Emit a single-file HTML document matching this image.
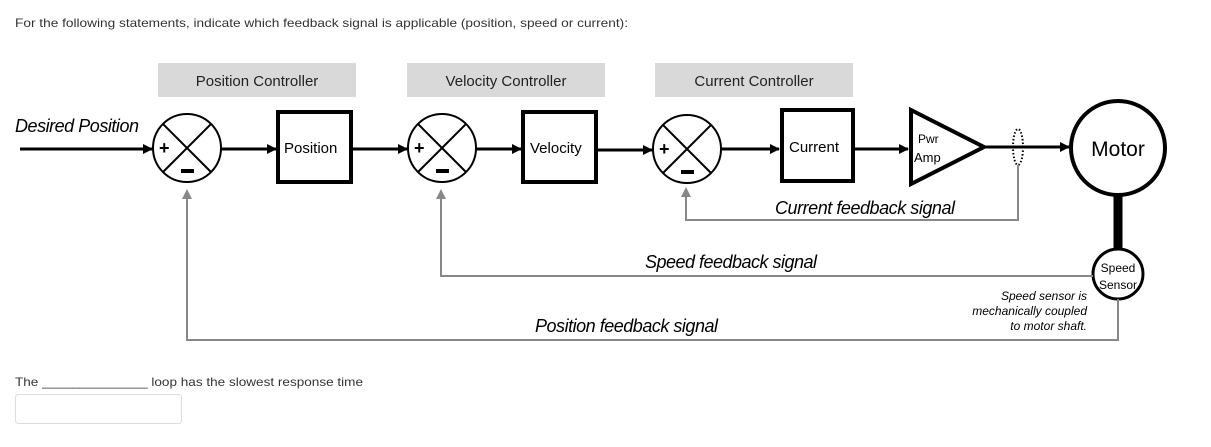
<!DOCTYPE html>
<html><head><style>
body{margin:0;background:#fff;width:1211px;height:442px;overflow:hidden;font-family:"Liberation Sans",sans-serif}
</style></head><body>
<svg width="1211" height="442" viewBox="0 0 1211 442" xmlns="http://www.w3.org/2000/svg" font-family="Liberation Sans, sans-serif">
<defs>
<marker id="a" markerWidth="10" markerHeight="10" refX="9" refY="5" orient="auto" markerUnits="userSpaceOnUse"><path d="M0,0 L10,5 L0,10 z" fill="#000"/></marker>
</defs>
<text x="15" y="27" font-size="12" fill="#333" textLength="613" lengthAdjust="spacingAndGlyphs">For the following statements, indicate which feedback signal is applicable (position, speed or current):</text>
<rect x="158" y="63" width="198" height="34" fill="#d9d9d9"/>
<rect x="407" y="63" width="198" height="34" fill="#d9d9d9"/>
<rect x="655" y="63" width="198" height="34" fill="#d9d9d9"/>
<text x="257" y="86" font-size="15" text-anchor="middle" fill="#222">Position Controller</text>
<text x="506" y="86" font-size="15" text-anchor="middle" fill="#222">Velocity Controller</text>
<text x="754" y="86" font-size="15" text-anchor="middle" fill="#222">Current Controller</text>
<text x="15" y="132" font-size="18" font-style="italic" fill="#000" textLength="124">Desired Position</text>
<g stroke="#000" stroke-width="3" fill="none">
<line x1="20" y1="149" x2="152" y2="149" marker-end="url(#a)"/>
<line x1="221" y1="149" x2="276" y2="149" marker-end="url(#a)"/>
<line x1="353" y1="149" x2="407" y2="149" marker-end="url(#a)"/>
<line x1="476" y1="149" x2="521" y2="149" marker-end="url(#a)"/>
<line x1="598" y1="150" x2="652" y2="150" marker-end="url(#a)"/>
<line x1="722" y1="149" x2="779" y2="149" marker-end="url(#a)"/>
<line x1="854" y1="149" x2="908" y2="149" marker-end="url(#a)"/>
<line x1="985" y1="147" x2="1069" y2="147" marker-end="url(#a)"/>
<rect x="278" y="112" width="73" height="70" stroke-width="4"/>
<rect x="523" y="112" width="73" height="70" stroke-width="4"/>
<rect x="782" y="110" width="71" height="71" stroke-width="4"/>
<path d="M911,110 L984,147 L911,184 Z" stroke-width="4"/>
<circle cx="1118" cy="148" r="47" stroke-width="4"/>
<circle cx="1118" cy="274" r="25" stroke-width="3"/>
</g>
<line x1="1118" y1="196" x2="1118" y2="249" stroke="#000" stroke-width="9"/>
<g stroke="#000" stroke-width="2" fill="#fff">
<circle cx="187" cy="148" r="34"/><line x1="163" y1="124" x2="211" y2="172"/><line x1="211" y1="124" x2="163" y2="172"/>
<circle cx="442" cy="148" r="34"/><line x1="418" y1="124" x2="466" y2="172"/><line x1="466" y1="124" x2="418" y2="172"/>
<circle cx="687" cy="149" r="34"/><line x1="663" y1="125" x2="711" y2="173"/><line x1="711" y1="125" x2="663" y2="173"/>
</g>
<g font-size="18" font-weight="bold" fill="#000">
<text x="159" y="154">+</text><text x="414" y="154">+</text><text x="659" y="155">+</text>
</g>
<g fill="#000"><rect x="181" y="169" width="13" height="4"/><rect x="436" y="169" width="13" height="4"/><rect x="681" y="170" width="13" height="4"/></g>
<ellipse cx="1018" cy="147" rx="5" ry="18" fill="none" stroke="#000" stroke-width="2" stroke-dasharray="1.5,2"/>
<g stroke="#888" stroke-width="2" fill="none">
<polyline points="1018,165 1018,220 686,220 686,196"/>
<polyline points="1093,276 441,276 441,198"/>
<polyline points="1118,299 1118,340 187,340 187,198"/>
</g>
<g fill="#888">
<path d="M681,197 L686,187 L691,197 Z"/>
<path d="M436,199 L441,189 L446,199 Z"/>
<path d="M182,199 L187,189 L192,199 Z"/>
</g>
<g font-size="15" fill="#000">
<text x="284" y="153">Position</text>
<text x="530" y="153">Velocity</text>
<text x="789" y="152">Current</text>
</g>
<text x="918" y="143" font-size="12">Pwr</text>
<text x="914" y="162" font-size="13">Amp</text>
<text x="1118" y="156" font-size="21" text-anchor="middle">Motor</text>
<text x="1118" y="272" font-size="12" text-anchor="middle">Speed</text>
<text x="1118" y="289" font-size="12" text-anchor="middle">Sensor</text>
<g font-size="18" font-style="italic" fill="#000">
<text x="775" y="214" textLength="180">Current feedback signal</text>
<text x="645" y="268" textLength="172">Speed feedback signal</text>
<text x="535" y="332" textLength="183">Position feedback signal</text>
</g>
<g font-size="12" font-style="italic" fill="#000" text-anchor="end">
<text x="1087" y="300">Speed sensor is</text>
<text x="1087" y="315">mechanically coupled</text>
<text x="1087" y="330">to motor shaft.</text>
</g>
<text x="15" y="386" font-size="12" fill="#333" textLength="348" lengthAdjust="spacingAndGlyphs">The ______________ loop has the slowest response time</text>
<rect x="15.5" y="394.5" width="166" height="29" rx="3" fill="#fff" stroke="#ddd"/>
</svg>
</body></html>
